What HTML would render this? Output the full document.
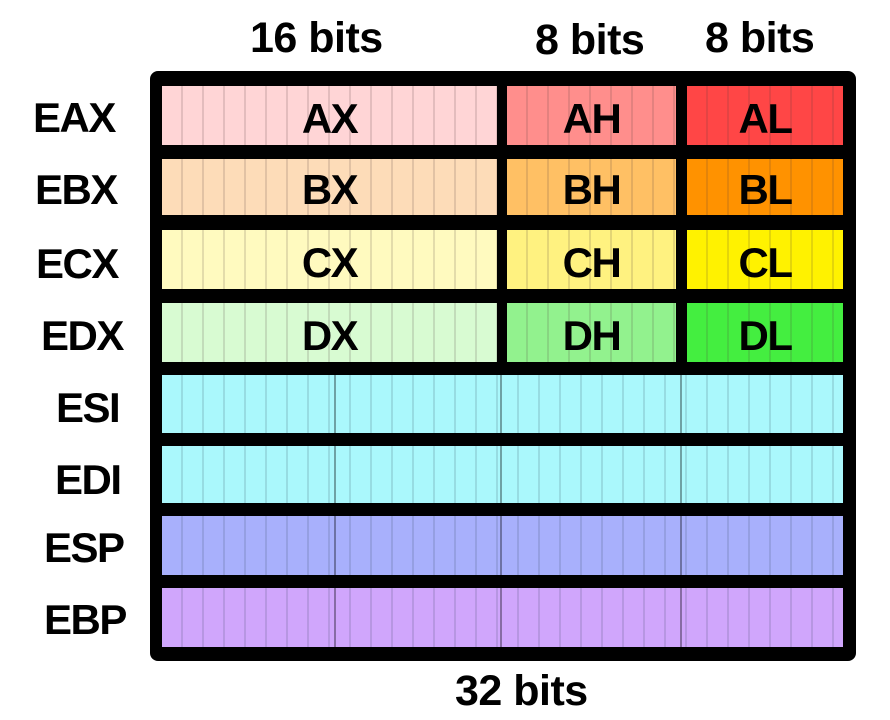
<!DOCTYPE html>
<html><head><meta charset="utf-8"><style>
body{margin:0;width:890px;height:720px;background:#fff;position:relative;overflow:hidden;font-family:"Liberation Sans",sans-serif;font-weight:bold;}
.t{position:absolute;font-size:42px;letter-spacing:-1.5px;color:#000;line-height:1;white-space:nowrap}
.h{font-size:43px;letter-spacing:-0.5px}
.box{position:absolute;left:150px;top:71px;width:706px;height:590px;background:#000;border-radius:8px}
.c{position:absolute;display:flex;align-items:center;justify-content:center;font-size:42px;letter-spacing:-1.5px;padding-top:6px;box-sizing:border-box;
background-image:repeating-linear-gradient(90deg,transparent 0 19px,rgba(80,60,60,.16) 19px 21px);}
.f{background-image:repeating-linear-gradient(90deg,transparent 0 19px,rgba(40,60,80,.15) 19px 21px);}
.d{position:absolute;top:0;bottom:0;width:2px;background:rgba(0,0,0,.35)}
</style></head><body>
<div class="t h" style="left:250px;top:17px">16 bits</div>
<div class="t h" style="left:535px;top:19px">8 bits</div>
<div class="t h" style="left:705px;top:17px">8 bits</div>
<div class="t h" style="left:455px;top:670px">32 bits</div>

<div class="t" style="left:33px;top:97px">EAX</div>
<div class="t" style="left:35px;top:169px">EBX</div>
<div class="t" style="left:36px;top:243px">ECX</div>
<div class="t" style="left:41px;top:315px">EDX</div>
<div class="t" style="left:56px;top:387px">ESI</div>
<div class="t" style="left:55px;top:459px">EDI</div>
<div class="t" style="left:44px;top:527px">ESP</div>
<div class="t" style="left:44px;top:599px">EBP</div>

<div class="box"></div>

<div class="c" style="left:162px;top:86px;width:335px;height:59px;background-color:#ffd5d6">AX</div>
<div class="c" style="left:507px;top:86px;width:169px;height:59px;background-color:#ff8e8c">AH</div>
<div class="c" style="left:687px;top:86px;width:156px;height:59px;background-color:#ff4646">AL</div>

<div class="c" style="left:162px;top:159px;width:335px;height:56px;background-color:#fddcb8">BX</div>
<div class="c" style="left:507px;top:159px;width:169px;height:56px;background-color:#ffc064">BH</div>
<div class="c" style="left:687px;top:159px;width:156px;height:56px;background-color:#ff9200">BL</div>

<div class="c" style="left:162px;top:230px;width:335px;height:59px;background-color:#fffabf">CX</div>
<div class="c" style="left:507px;top:230px;width:169px;height:59px;background-color:#fff280">CH</div>
<div class="c" style="left:687px;top:230px;width:156px;height:59px;background-color:#fff200">CL</div>

<div class="c" style="left:162px;top:303px;width:335px;height:59px;background-color:#d8fbd2">DX</div>
<div class="c" style="left:507px;top:303px;width:169px;height:59px;background-color:#92f28e">DH</div>
<div class="c" style="left:687px;top:303px;width:156px;height:59px;background-color:#44ee40">DL</div>

<div class="c f" style="left:162px;top:375px;width:681px;height:58px;background-color:#aaf8fc"><div class="d" style="left:172px"></div><div class="d" style="left:338px"></div><div class="d" style="left:518px"></div></div>
<div class="c f" style="left:162px;top:446px;width:681px;height:57px;background-color:#aaf8fc"><div class="d" style="left:172px"></div><div class="d" style="left:338px"></div><div class="d" style="left:518px"></div></div>
<div class="c f" style="left:162px;top:516px;width:681px;height:59px;background-color:#a8b0fc"><div class="d" style="left:172px"></div><div class="d" style="left:338px"></div><div class="d" style="left:518px"></div></div>
<div class="c f" style="left:162px;top:588px;width:681px;height:59px;background-color:#d0a6fc"><div class="d" style="left:172px"></div><div class="d" style="left:338px"></div><div class="d" style="left:518px"></div></div>
</body></html>
